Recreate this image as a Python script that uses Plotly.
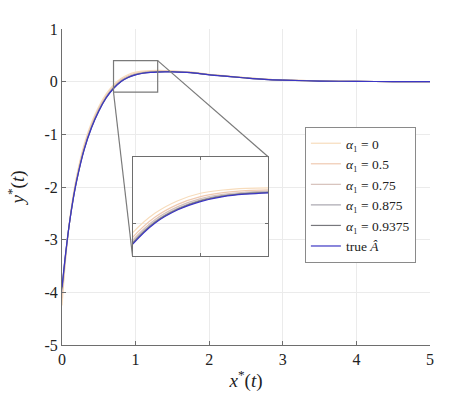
import plotly.graph_objects as go

# ---------------- data ----------------
t_vals = [0, 0.05, 0.1, 0.15, 0.2, 0.3, 0.4, 0.5, 0.6, 0.7, 0.8, 0.9, 1.0, 1.1,
          1.2, 1.3, 1.4, 1.5, 1.75, 2.0, 2.25, 2.5, 2.75, 3.0, 3.5, 4.0, 4.5, 5.0]

y_alpha_0 = [-4.25, -3.37, -2.68, -2.17, -1.78, -1.19, -0.78, -0.47, -0.23, -0.06,
             0.06, 0.135, 0.18, 0.20, 0.21, 0.213, 0.212, 0.206, 0.185, 0.14,
             0.108, 0.076, 0.05, 0.034, 0.014, 0.006, 0.002, 0.0]
y_alpha_05 = [-4.11, -3.322, -2.688, -2.202, -1.82, -1.234, -0.82, -0.506, -0.262, -0.088,
              0.036, 0.113, 0.16, 0.184, 0.196, 0.201, 0.202, 0.198, 0.179, 0.136,
              0.105, 0.074, 0.048, 0.032, 0.013, 0.005, 0.002, 0.0]
y_alpha_075 = [-4.02, -3.29, -2.693, -2.222, -1.845, -1.262, -0.845, -0.529, -0.282, -0.106,
               0.021, 0.099, 0.148, 0.174, 0.187, 0.194, 0.196, 0.193, 0.175, 0.134,
               0.103, 0.072, 0.047, 0.031, 0.013, 0.005, 0.002, 0.0]
y_alpha_0875 = [-3.96, -3.27, -2.697, -2.236, -1.863, -1.281, -0.863, -0.545, -0.296, -0.118,
                0.01, 0.089, 0.139, 0.167, 0.181, 0.188, 0.191, 0.189, 0.172, 0.132,
                0.101, 0.071, 0.046, 0.03, 0.012, 0.005, 0.002, 0.0]
y_alpha_09375 = [-3.928, -3.26, -2.698, -2.244, -1.872, -1.291, -0.872, -0.553, -0.304, -0.124,
                 0.005, 0.084, 0.134, 0.163, 0.178, 0.185, 0.189, 0.188, 0.171, 0.131,
                 0.10, 0.07, 0.045, 0.03, 0.012, 0.005, 0.002, 0.0]
y_true = [-3.90, -3.25, -2.70, -2.25, -1.88, -1.30, -0.88, -0.56, -0.31, -0.13,
          0.00, 0.08, 0.13, 0.16, 0.175, 0.183, 0.187, 0.186, 0.17, 0.13,
          0.10, 0.07, 0.045, 0.03, 0.012, 0.005, 0.002, 0.0]

series_labels = ["<i>α</i>₁ = 0", "<i>α</i>₁ = 0.5",
                 "<i>α</i>₁ = 0.75", "<i>α</i>₁ = 0.875",
                 "<i>α</i>₁ = 0.9375", "true <i>Â</i>"]
series_values = [y_alpha_0, y_alpha_05, y_alpha_075, y_alpha_0875, y_alpha_09375, y_true]
series_colors = ["#f7dcbc", "#efc9b0", "#d6c0ba", "#a9a6ae", "#77777c", "#3c36c4"]

x_ticks = [0, 1, 2, 3, 4, 5]
x_ticktext = ["0", "1", "2", "3", "4", "5"]
y_ticks = [-5, -4, -3, -2, -1, 0, 1]
y_ticktext = ["-5", "-4", "-3", "-2", "-1", "0", "1"]

zoom_x = [0.7, 1.3]
zoom_y = [-0.2, 0.4]
main_x = [0, 5]
main_y = [-5, 1]

# ---------------- figure ----------------
FONT = "Liberation Serif"
fig = go.Figure()

for lab, vals, col in zip(series_labels, series_values, series_colors):
    fig.add_trace(go.Scatter(x=t_vals, y=vals, mode="lines", name=lab,
                             line=dict(color=col, width=1.2, shape="spline"),
                             xaxis="x", yaxis="y"))
for lab, vals, col in zip(series_labels, series_values, series_colors):
    fig.add_trace(go.Scatter(x=t_vals, y=vals, mode="lines", name=lab, showlegend=False,
                             line=dict(color=col, width=1.2, shape="spline"),
                             xaxis="x2", yaxis="y2"))

inset_dx = [0.1916, 0.561]
inset_dy = [0.2816, 0.595]

axis_col = "#6e6e6e"
grid_col = "#ebebeb"

fig.update_layout(
    width=474, height=395,
    margin=dict(l=62, r=44, t=29, b=50),
    paper_bgcolor="white", plot_bgcolor="white",
    font=dict(family=FONT, size=16, color="#222"),
    xaxis=dict(domain=[0, 1], range=main_x, tickvals=x_ticks, ticktext=x_ticktext,
               showgrid=True, gridcolor=grid_col, zeroline=False, automargin=False,
               showline=True, linecolor=axis_col, linewidth=1,
               ticks="inside", ticklen=4, tickcolor=axis_col,
               tickfont=dict(family=FONT, size=16),
               title=dict(text="<i>x</i><sup>*</sup>(<i>t</i>)",
                          font=dict(family=FONT, size=19), standoff=6)),
    yaxis=dict(domain=[0, 1], range=main_y, tickvals=y_ticks, ticktext=y_ticktext,
               showgrid=True, gridcolor=grid_col, zeroline=False, automargin=False,
               showline=True, linecolor=axis_col, linewidth=1,
               ticks="inside", ticklen=4, tickcolor=axis_col,
               tickfont=dict(family=FONT, size=16),
               title=dict(text="<i>y</i><sup>*</sup>(<i>t</i>)",
                          font=dict(family=FONT, size=19), standoff=14)),
    xaxis2=dict(domain=inset_dx, range=zoom_x, anchor="y2", tickvals=[1.0],
                showticklabels=False, showgrid=True, gridcolor=grid_col, zeroline=False,
                showline=True, mirror="ticks", linecolor=axis_col, linewidth=1,
                ticks="inside", ticklen=3, tickcolor=axis_col),
    yaxis2=dict(domain=inset_dy, range=zoom_y, anchor="x2", tickvals=[0.0],
                showticklabels=False, showgrid=True, gridcolor=grid_col, zeroline=False,
                showline=True, mirror="ticks", linecolor=axis_col, linewidth=1,
                ticks="inside", ticklen=3, tickcolor=axis_col),
    legend=dict(x=0.66, y=0.69, xanchor="left", yanchor="top",
                bgcolor="white", bordercolor="#8a8a8a", borderwidth=1,
                font=dict(family=FONT, size=13.5, color="#222"),
                itemwidth=30, tracegroupgap=0),
    showlegend=True,
)

# white background for the inset (hides main grid)
ix0 = main_x[0] + inset_dx[0] * (main_x[1] - main_x[0])
ix1 = main_x[0] + inset_dx[1] * (main_x[1] - main_x[0])
iy0 = main_y[0] + inset_dy[0] * (main_y[1] - main_y[0])
iy1 = main_y[0] + inset_dy[1] * (main_y[1] - main_y[0])
fig.add_shape(type="rect", xref="x", yref="y", x0=ix0, x1=ix1, y0=iy0, y1=iy1,
              fillcolor="white", line=dict(width=0), layer="between")

# zoom rectangle on main axes
fig.add_shape(type="rect", xref="x", yref="y", x0=zoom_x[0], x1=zoom_x[1],
              y0=zoom_y[0], y1=zoom_y[1], line=dict(color="#7a7a7a", width=1.2),
              layer="above")
# connector lines
fig.add_shape(type="line", xref="x", yref="y", x0=zoom_x[0], y0=zoom_y[0],
              x1=ix0, y1=iy0, line=dict(color="#7a7a7a", width=1.2), layer="above")
fig.add_shape(type="line", xref="x", yref="y", x0=zoom_x[1], y0=zoom_y[1],
              x1=ix1, y1=iy1, line=dict(color="#7a7a7a", width=1.2), layer="above")

fig.write_html("out.html", config={"displayModeBar": False},
               post_script="document.body.style.margin='0px';document.body.style.padding='0px';")
